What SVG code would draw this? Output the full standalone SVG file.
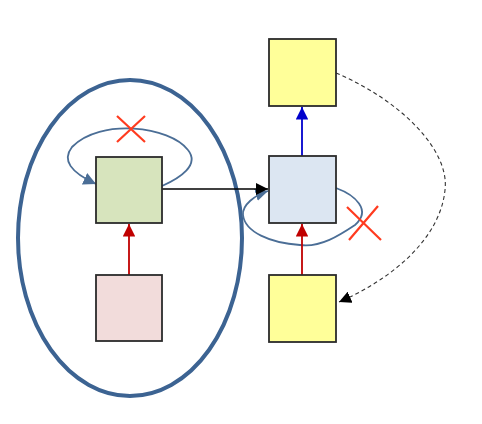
<svg xmlns="http://www.w3.org/2000/svg" width="482" height="424" viewBox="0 0 482 424">
<style>
.box{stroke:#2b2b2b;stroke-width:1.8}
.loop{fill:none;stroke:#4b6e96;stroke-width:1.8}
.x{stroke:#ff3b1f;stroke-width:2.2;fill:none}
</style>
<defs>
<marker id="aBlk" viewBox="0 0 10 10" refX="10" refY="5" markerWidth="8" markerHeight="8" orient="auto" markerUnits="strokeWidth"><path d="M0,0L10,5L0,10z" fill="#000"/></marker>
<marker id="aRed" viewBox="0 0 10 10" refX="10" refY="5" markerWidth="7" markerHeight="7" orient="auto" markerUnits="strokeWidth"><path d="M0,0L10,5L0,10z" fill="#c00000"/></marker>
<marker id="aBlue" viewBox="0 0 10 10" refX="10" refY="5" markerWidth="7" markerHeight="7" orient="auto" markerUnits="strokeWidth"><path d="M0,0L10,5L0,10z" fill="#0000cc"/></marker>
<marker id="aLoop" viewBox="0 0 10 10" refX="10" refY="5" markerWidth="7" markerHeight="7" orient="auto" markerUnits="strokeWidth"><path d="M0,0L10,5L0,10z" fill="#4b6e96"/></marker>
<marker id="aDash" viewBox="0 0 10 10" refX="10" refY="5" markerWidth="11" markerHeight="11" orient="auto" markerUnits="strokeWidth"><path d="M0,0L10,5L0,10z" fill="#000"/></marker>
</defs>
<g id="group-ellipse">
<ellipse cx="130" cy="238" rx="112" ry="158" fill="none" stroke="#3c6392" stroke-width="4"/>
</g>
<g id="connectors">
<path class="loop" d="M162,186 C180,178 200,165 188,150 C170,126 100,118 72,147 C62,160 70,172 96,184" marker-end="url(#aLoop)"/>
<path class="loop" d="M336,188 C355,195 372,210 355,225 C340,235 320,248 300,245 C270,243 245,232 243,215 C242,205 255,195 268,191" marker-end="url(#aLoop)"/>
<line x1="129" y1="275" x2="129" y2="224" stroke="#c00000" stroke-width="1.8" marker-end="url(#aRed)"/>
<line x1="302" y1="275" x2="302" y2="224" stroke="#c00000" stroke-width="1.8" marker-end="url(#aRed)"/>
<line x1="302" y1="156" x2="302" y2="107" stroke="#0000cc" stroke-width="1.8" marker-end="url(#aBlue)"/>
<line x1="162" y1="189" x2="268" y2="189" stroke="#000" stroke-width="1.5" marker-end="url(#aBlk)"/>
<path d="M336,73 C400,100 450,150 445,190 C440,240 390,280 339,302" fill="none" stroke="#333" stroke-width="1.1" stroke-dasharray="4,3" marker-end="url(#aDash)"/>
</g>
<g id="node-green"><rect class="box" x="96" y="157" width="66" height="66" fill="#d7e4bd"/></g>
<g id="node-pink"><rect class="box" x="96" y="275" width="66" height="66" fill="#f2dcdb"/></g>
<g id="node-blue"><rect class="box" x="269" y="156" width="67" height="67" fill="#dce6f2"/></g>
<g id="node-yellow-top"><rect class="box" x="269" y="39" width="67" height="67" fill="#ffff99"/></g>
<g id="node-yellow-bottom"><rect class="box" x="269" y="275" width="67" height="67" fill="#ffff99"/></g>
<g id="cross-1"><path class="x" d="M117,116L145,142M145,116L117,142"/></g>
<g id="cross-2"><path class="x" d="M347,207L381,240M378,206L349,240"/></g>
</svg>
